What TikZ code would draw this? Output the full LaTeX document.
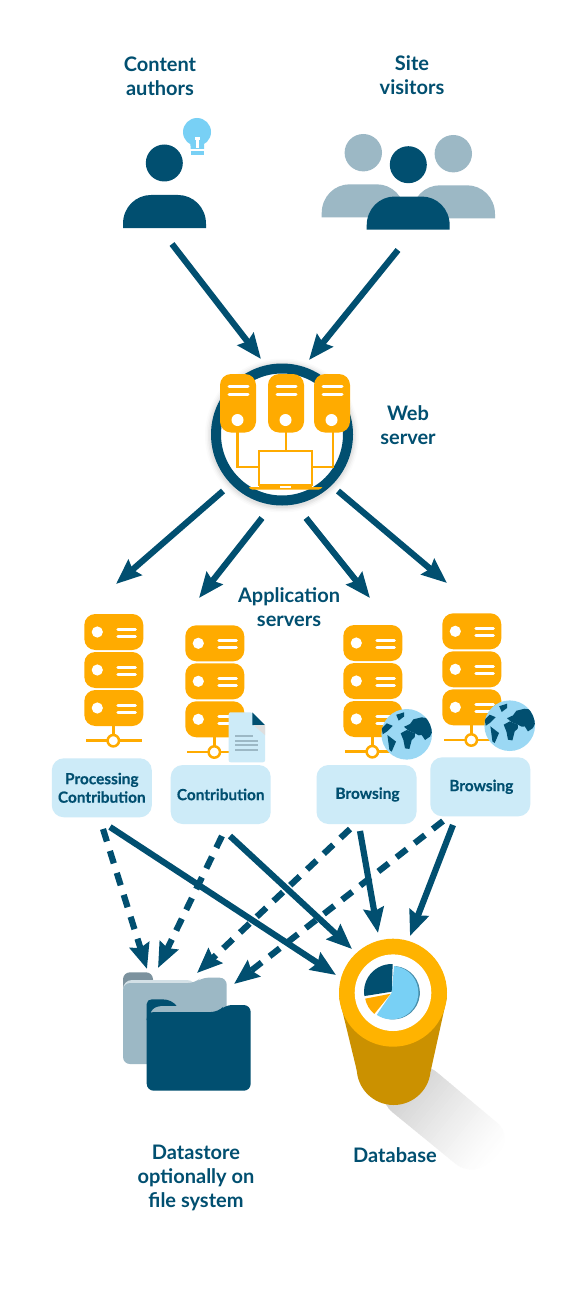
\documentclass[tikz,border=0pt]{standalone}
\usepackage{fontspec}
\setmainfont{Lato}[BoldFont={Lato Bold}]
\usetikzlibrary{arrows.meta}
\definecolor{navy}{HTML}{014F70}
\definecolor{steel}{HTML}{9CB8C5}
\definecolor{amber}{HTML}{FFAB00}
\definecolor{ringgold}{HTML}{FFB300}
\definecolor{dbbody}{HTML}{CB9100}
\definecolor{pale}{HTML}{CDEBF8}
\definecolor{sky}{HTML}{78D0F5}
\definecolor{globeblue}{HTML}{9BD8F4}
\definecolor{tabgrey}{HTML}{7C929E}
\definecolor{foldlight}{HTML}{D3E0E6}
\newfontface\boxface{Lato Bold}[FakeBold=0.35]
\tikzset{
  flow/.style={draw=navy,line width=6.2pt,-{Stealth[length=25pt,width=20pt,inset=3pt]}},
  dflow/.style={flow,dash pattern=on 13pt off 10pt},
  lbl/.style={font=\bfseries\fontsize{20}{24}\selectfont,text=navy,align=center,inner sep=0pt},
  boxlbl/.style={rectangle,rounded corners=12pt,fill=pale,minimum width=100pt,minimum height=59pt,
     inner sep=0pt,align=center,text=navy,font=\boxface\fontsize{15.4}{18.5}\selectfont},
  hotspot/.style={inner sep=0pt,minimum size=10pt},
  wire/.style={draw=amber,line width=2.4pt},
  slot/.style={draw=white,line width=3pt,line cap=round},
}
% body of a person: left x, top y, colour
\newcommand{\personbody}[3]{%
  \fill[#3] (#1,#2+33) -- (#1,#2+29) .. controls (#1,#2+12) and (#1+13,#2) .. (#1+28,#2)
    -- (#1+55,#2) .. controls (#1+70,#2) and (#1+83,#2+12) .. (#1+83,#2+29) -- (#1+83,#2+33) -- cycle;}
% one horizontal rack server
\newcommand{\rackunit}[2]{%
  \fill[amber,rounded corners=11pt] (#1,#2) rectangle (#1+59,#2+36);
  \fill[white] (#1+13,#2+18) circle[radius=5.6pt];
  \draw[slot] (#1+33.5,#2+15.5) -- (#1+51,#2+15.5);
  \draw[slot] (#1+33.5,#2+22) -- (#1+51,#2+22);}
% stack of three with network foot
\newcommand{\srvstack}[2]{%
  \draw[amber,line width=2.5pt] (#1+29,#2+110) -- (#1+29,#2+126.7);
  \draw[amber,line width=2.5pt] (#1+2,#2+126.7) -- (#1+57.5,#2+126.7);
  \draw[amber,line width=2.5pt,fill=white] (#1+29,#2+126.7) circle[radius=5.7pt];
  \rackunit{#1}{#2}\rackunit{#1}{#2+38}\rackunit{#1}{#2+76}}
% globe, centre x y
\newcommand{\globeicon}[2]{%
  \begin{scope}[shift={(#1,#2)}]
    \fill[globeblue] (0,0) circle[radius=25.3pt];
    \clip (0,0) circle[radius=25.3pt];
    \fill[navy] (-10.5,-19.5) -- (-2.7,-22) -- (-2.7,-17.7) -- (-8,-13.7) -- cycle;
    \fill[navy] (-25,-6) -- (-20,-11) -- (-14,-8.5) -- (-19.5,-3) -- (-24,0) -- cycle;
    \fill[navy] (-2.7,-7.5) -- (3.3,-10.3) -- (6.7,-15) -- (15,-17) -- (21.7,-16) -- (26,-10) -- (25.7,-3) -- (23.3,2.3) -- (18.3,5.7) -- (15,0.7) -- (12,1) -- (8.3,-1) -- (1.7,-3.7) -- cycle;
    \fill[navy] (-6,-1) -- (0,-4.3) -- (8.3,-1) -- (8,3) -- (5,5.7) -- (2.7,14.7) -- (-1.7,14) -- (-3.3,5.7) -- cycle;
    \fill[navy] (-19.3,0.7) -- (-10.7,7.3) -- (-15,17.3) -- (-17.3,15.7) -- cycle;
  \end{scope}}
\begin{document}
\begin{tikzpicture}[x=1pt,y=-1pt]
\useasboundingbox (0,0) rectangle (580,1300);
\fill[white] (0,0) rectangle (580,1300);

% ---- labels
\node[lbl] (tauthors) at (160,76) {Content\\authors};
\node[lbl] (tvisitors) at (412,75) {Site\\visitors};
\node[lbl] (tweb) at (408,425) {Web\\server};
\node[lbl] (tapp) at (289,607) {Application\\servers};
\node[lbl] (tstore) at (196,1178) {Datastore\\optionally on\\file system};

% ---- content author
\node[hotspot] (authors) at (165,190) {};
\fill[sky] (197,132) circle[radius=14pt];
\fill[sky] (190,138) -- (204,138) -- (204,149) -- (190.7,149) -- cycle;
\fill[sky] (191,150.7) rectangle (204,155);
\fill[white] (194.5,137.5) rectangle (200,140);
\fill[white] (196.2,137.5) rectangle (198.8,148.5);
\fill[navy] (164.3,163) circle[radius=18.5pt];
\personbody{123}{195}{navy}

% ---- site visitors
\node[hotspot] (visitors) at (408,180) {};
\fill[steel] (363.3,152.7) circle[radius=18.7pt];
\fill[steel] (453.3,153.7) circle[radius=18.7pt];
\personbody{321.7}{184.3}{steel}
\personbody{412}{185.3}{steel}
\fill[white] (408.3,164.7) circle[radius=19.5pt];
\fill[navy] (408.3,164.7) circle[radius=18.5pt];
\personbody{366.7}{196.5}{navy}

% ---- web server
\foreach \r/\o in {77/0.015,75.5/0.025,74/0.035,72.5/0.04}{\fill[black,opacity=\o] (282,435.5) circle[radius=\r pt];}
\node[circle,draw=navy,fill=white,line width=10pt,minimum size=132pt,inner sep=0pt] (web) at (282,434.5) {};
\foreach \sx in {220,268,314}{
  \fill[amber,rounded corners=11pt] (\sx,374) rectangle (\sx+36,432.5);
  \draw[slot] (\sx+9,386.7) -- (\sx+28,386.7);
  \draw[slot] (\sx+9,394) -- (\sx+28,394);
  \fill[white] (\sx+17.5,420) circle[radius=6pt];
}
\draw[wire] (237.5,432) -- (237.5,467) -- (259,467);
\draw[wire] (286,432) -- (286,451);
\draw[wire] (333,432) -- (333,467) -- (312,467);
\draw[wire,fill=white] (259,451) rectangle (312,485);
\fill[amber,rounded corners=1pt] (249,487) -- (322,487) -- (322,488) -- (319,489.7) -- (252,489.7) -- (249,488) -- cycle;
\fill[amber] (259,485) rectangle (312,487);
\fill[white] (280,486) rectangle (291,487.6);

% ---- application servers
\srvstack{84.3}{614}
\srvstack{185.3}{625.3}
\srvstack{343.3}{625}
\srvstack{442.3}{613.3}

% document
\fill[pale,rounded corners=2pt] (228.7,712.3) -- (252.3,712.3) -- (265,725) -- (265,762.3) -- (228.7,762.3) -- cycle;
\fill[navy] (252.3,712.3) -- (265,725) -- (252.3,725) -- cycle;
\fill[black!13] (253.3,725) -- (265,725) -- (265,735) -- cycle;
\foreach \ly/\lx in {736/252.7,740.7/258.3,745.3/258.3,749.7/258.3}{
  \draw[steel,line width=2.2pt] (235.3,\ly) -- (\lx,\ly);}

\globeicon{406.7}{734.3}
\globeicon{509.7}{725.7}

\node[boxlbl] (proc) at (101.8,787.8) {Processing\\Contribution};
\node[boxlbl] (contrib) at (220.7,794.5) {\raisebox{-0.7pt}{Contribution}};
\node[boxlbl] (brow1) at (366.5,794.5) {\hspace{2pt}\raisebox{-1.5pt}{Browsing}};
\node[boxlbl] (brow2) at (480.3,786.8) {\hspace{2pt}\raisebox{0.7pt}{Browsing}};

% ---- folders
\fill[tabgrey,rounded corners=7pt] (123,1000) -- (123,972.3) -- (153,972.3) -- (153,1000) -- cycle;
\fill[foldlight,rounded corners=9pt] (123,1000) -- (123,980) -- (196,980) -- (196,1000) -- cycle;
\fill[steel,rounded corners=7pt] (123,1064) -- (123,983) -- (195,983) -- (201,977.7) -- (226.7,977.7) -- (226.7,1064) -- cycle;
\fill[navy] (146.7,1020) -- (146.7,1004) .. controls (146.7,1001) and (149,999.3) .. (152,999.3)
  -- (162,999.3) .. controls (169,999.3) and (174,1002) .. (177.5,1007) -- (177.5,1020) -- cycle;
\fill[steel] (151,1020) -- (151,1012) .. controls (153,1008) and (157,1006) .. (163,1006) -- (180,1006) -- (180,1020) -- cycle;
\fill[navy,rounded corners=7pt] (146.7,1090.7) -- (146.7,1012) -- (218,1012) -- (225,1005) -- (250.7,1005) -- (250.7,1090.7) -- cycle;
\node[hotspot] (store) at (187,1031) {};

% ---- database
\begin{scope}
  \clip[rounded corners=22pt] (420,1058) -- (514,1137) -- (473,1178) -- (375,1098) -- cycle;
  \begin{scope}[shift={(393.7,1068)},rotate=-39]
    \foreach \i in {0,...,45}{
      \pgfmathsetmacro{\g}{21*(1-\i/45)^1.25}
      \fill[black!\g] ({\i*3},-90) rectangle ({\i*3+3.4},90);
    }
  \end{scope}
\end{scope}
\fill[dbbody] (393.7,1068) circle[radius=37pt];
\fill[dbbody] (339.2,998) -- (356.9,1071) -- (430.7,1071) -- (446.8,998) -- cycle;
\node[circle,fill=ringgold,minimum size=108pt,inner sep=0pt] (db) at (393,992.7) {};
\fill[white] (393,992.7) circle[radius=38.3pt];
\coordinate (pie) at (391.7,992.7);
\fill[black!25!sky!80!navy] ([xshift=1.5pt]pie) -- ++(85:26.7pt) arc[start angle=85,end angle=-124,radius=26.7pt] -- cycle;
\fill[sky] (pie) -- ++(85:26.7pt) arc[start angle=85,end angle=-124,radius=26.7pt] -- cycle;
\fill[navy] ([shift={(0,-1)}]pie) -- ++(88:27.7pt) arc[start angle=88,end angle=189,radius=27.7pt] -- cycle;
\fill[amber] ([shift={(-1,1)}]pie) -- ++(191:26pt) arc[start angle=191,end angle=231,radius=26pt] -- cycle;

\node[lbl] (tdb) at (395,1155) {Database};

% ---- connectors
\draw[flow] ([shift={(7,54)}]authors.center) -- ([shift={(-21,-75.5)}]web.center);
\draw[flow] ([shift={(-10,70)}]visitors.center) -- ([shift={(27,-74.5)}]web.center);
\draw[flow] ([shift={(-59,56.5)}]web.center) -- ([shift={(14.2,-203.8)}]proc.center);
\draw[flow] ([shift={(-20,83.5)}]web.center) -- ([shift={(-21.7,-196.5)}]contrib.center);
\draw[flow] ([shift={(24,83.5)}]web.center) -- ([shift={(3.5,-196.5)}]brow1.center);
\draw[flow] ([shift={(56,56.5)}]web.center) -- ([shift={(-33.3,-203.8)}]brow2.center);

\draw[flow] ([shift={(8.2,39.2)}]proc.center) -- ([shift={(-57,-17.7)}]db.center);
\draw[flow] ([shift={(9.3,41.5)}]contrib.center) -- ([shift={(-41,-43.7)}]db.center);
\draw[flow] ([shift={(-6.5,36.5)}]brow1.center) -- ([shift={(-15,-59.7)}]db.center);
\draw[flow] ([shift={(-27.3,38.2)}]brow2.center) -- ([shift={(17,-56.7)}]db.center);

\draw[dflow] ([shift={(1.2,41.2)}]proc.center) -- ([shift={(-40,-62)}]store.center);
\draw[dflow] ([shift={(1.3,41.5)}]contrib.center) -- ([shift={(-29,-63)}]store.center);
\draw[dflow] ([shift={(-16.5,34.5)}]brow1.center) -- ([shift={(10,-58)}]store.center);
\draw[dflow] ([shift={(-37.3,34.2)}]brow2.center) -- ([shift={(47,-47)}]store.center);
\end{tikzpicture}
\end{document}
